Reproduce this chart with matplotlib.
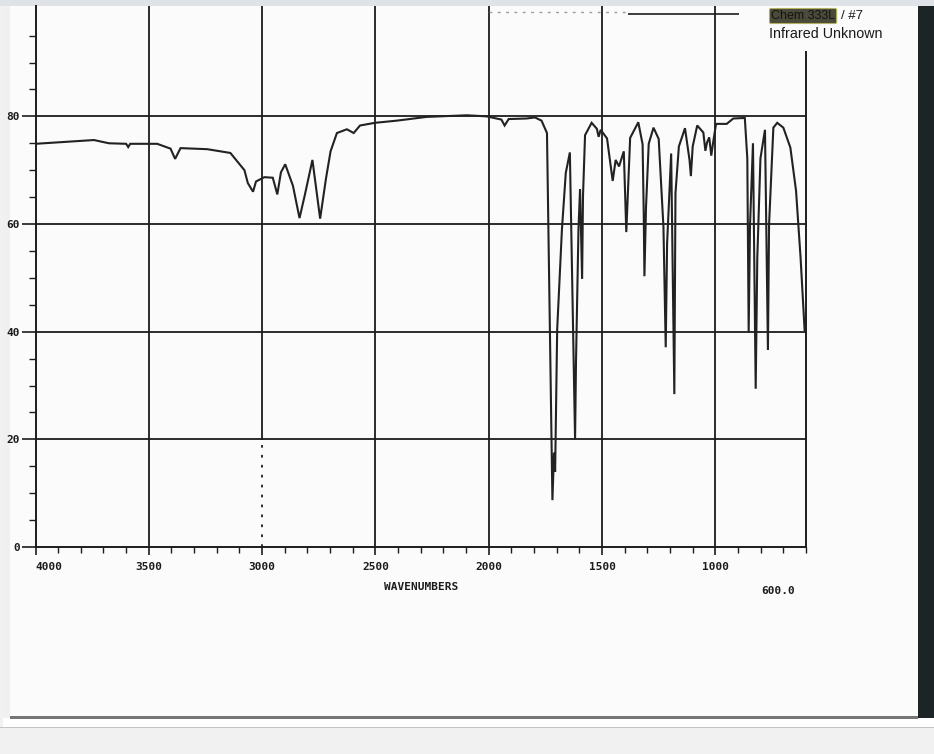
import numpy as np
import matplotlib
matplotlib.use("Agg")
import matplotlib.pyplot as plt
from matplotlib.patches import Rectangle

# ---- data ----
wavenumber = [4000, 3742, 3676, 3600, 3591, 3582, 3463, 3404, 3384, 3360, 3242, 3140,
              3078, 3063, 3040, 3027, 2990, 2953, 2933, 2917, 2898, 2864, 2835, 2812,
              2778, 2744, 2718, 2698, 2670, 2626, 2596, 2568, 2502, 2406, 2274, 2097,
              2010, 1944, 1930, 1912, 1833, 1796, 1767, 1743, 1719, 1712, 1707, 1698,
              1677, 1660, 1642, 1619, 1615, 1604, 1597, 1588, 1584, 1575, 1546, 1523,
              1515, 1506, 1478, 1453, 1440, 1425, 1404, 1393, 1376, 1340, 1321, 1316,
              1313, 1306, 1294, 1273, 1250, 1229, 1219, 1213, 1195, 1181, 1176, 1161,
              1134, 1114, 1108, 1100, 1080, 1053, 1044, 1037, 1027, 1018, 1010, 997,
              950, 921, 870, 859, 853, 847, 834, 822, 815, 801, 781, 768, 763, 744,
              727, 700, 669, 644, 624, 606]
transmittance = [74.9, 75.6, 75.0, 74.9, 74.3, 74.9, 74.9, 74.0, 72.1, 74.1, 73.9, 73.2,
                 70.0, 67.6, 66.0, 67.9, 68.7, 68.6, 65.5, 69.6, 71.1, 67.1, 61.1, 65.3,
                 71.9, 61.0, 68.5, 73.5, 76.9, 77.6, 76.9, 78.3, 78.8, 79.2, 79.9, 80.2,
                 80.0, 79.4, 78.3, 79.5, 79.6, 79.8, 79.2, 76.9, 8.7, 17.5, 14.0, 40.4,
                 59.0, 69.5, 73.3, 20.0, 34.2, 59.1, 66.5, 49.8, 65.3, 76.5, 78.8, 77.7,
                 76.2, 77.5, 75.9, 68.0, 71.9, 70.7, 73.5, 58.5, 76.0, 78.9, 74.8, 61.8,
                 50.3, 63.1, 74.9, 77.9, 75.8, 59.4, 37.1, 56.3, 73.1, 28.4, 65.7, 74.4,
                 77.8, 71.9, 68.9, 74.4, 78.3, 77.0, 73.6, 75.1, 76.1, 72.7, 75.1, 78.6,
                 78.6, 79.6, 79.7, 72.2, 39.9, 59.8, 75.0, 29.4, 53.6, 72.2, 77.5, 36.6,
                 59.9, 77.9, 78.8, 77.9, 74.2, 66.2, 53.8, 40.2]

x_major = [4000, 3500, 3000, 2500, 2000, 1500, 1000]
x_labels = ["4000", "3500", "3000", "2500", "2000", "1500", "1000"]
y_major = [0, 20, 40, 60, 80]
y_labels = ["0", "20", "40", "60", "80"]

W, H = 934, 754
INK = "#1c1c1c"
MONO = {"family": "DejaVu Sans Mono", "weight": "bold"}

fig = plt.figure(figsize=(W / 100, H / 100), dpi=100)
fig.patch.set_facecolor("#f1f1f1")


def px_rect(x0, y0, x1, y1, color, z=-5):
    r = Rectangle((x0 / W, 1 - y1 / H), (x1 - x0) / W, (y1 - y0) / H,
                  transform=fig.transFigure, facecolor=color, edgecolor="none", zorder=z)
    fig.add_artist(r)


# scanned page background
px_rect(0, 0, W, 6, "#dfe2e7")
px_rect(3, 6, W, 727, "#ffffff")
px_rect(3, 6, 10, 718, "#f0f0f0")
px_rect(10, 6, 918, 717, "#fbfbfb")
px_rect(918, 6, W, 718, "#1d2425")
px_rect(10, 716, 918, 719, "#767676")
px_rect(0, 727, W, 728, "#c4c4c4")

ax = fig.add_axes([35.5 / W, (H - 547) / H, 770.5 / W, 541 / H])
ax.set_facecolor("none")
ax.set_xlim(4000, 600)
ax.set_ylim(0, 100.5)

ax.spines["top"].set_visible(False)
for s in ["left", "bottom", "right"]:
    ax.spines[s].set_color(INK)
    ax.spines[s].set_linewidth(1.4)
ax.spines["right"].set_bounds(0, 92)

# grid lines
for v in x_major[1:]:
    if v == 3000:
        ax.axvline(v, ymin=20 / 100.5, color=INK, lw=1.3, zorder=1)
        ax.vlines(v, 0, 20, colors=INK, lw=1.3, linestyles=(0, (1.5, 4)), zorder=1)
    else:
        ax.axvline(v, color=INK, lw=1.3, zorder=1)
for h in y_major[1:]:
    ax.axhline(h, color=INK, lw=1.3, zorder=1)

# faint top frame remnant
ax.hlines(99.0, 1385, 894, colors=INK, lw=1.2, zorder=1, clip_on=False)
ax.hlines(99.3, 2000, 1390, colors="#9a9a9a", lw=1.0, linestyles=(0, (2, 4)), zorder=1)

# spectrum
ax.plot(wavenumber, transmittance, color="#222222", lw=1.5, zorder=3,
        solid_joinstyle="miter")

# ticks
ax.set_xticks(x_major)
ax.set_xticklabels(x_labels, fontdict=MONO, fontsize=8)
ax.set_xticks(np.arange(600, 4001, 100), minor=True)
ax.tick_params(axis="x", which="major", direction="out", length=6, width=1.2,
               pad=5, colors=INK)
ax.tick_params(axis="x", which="minor", direction="out", length=4, width=1.0,
               colors=INK)
ax.get_xticklabels()[0].set_horizontalalignment("left")

ax.set_yticks(y_major)
ax.set_yticklabels(y_labels, fontdict=MONO, fontsize=8)
ax.set_yticks(np.arange(0, 100, 5), minor=True)
ax.tick_params(axis="y", which="major", direction="out", length=10, width=1.2,
               pad=1, colors=INK)
ax.tick_params(axis="y", which="minor", direction="out", length=5, width=1.0,
               colors=INK)

ax.set_xlabel("WAVENUMBERS", fontdict=MONO, fontsize=8, labelpad=7, color=INK)

fig.text(778 / W, 1 - 591 / H, "600.0", ha="center", va="center",
         fontsize=8, color=INK, **MONO)

# handwritten label on the page
fig.text(771 / W, 1 - 16 / H, "Chem 333L", ha="left", va="center",
         fontsize=9, family="Liberation Sans", color="#141410",
         bbox=dict(boxstyle="round,pad=0.12", facecolor="#4a4a3a",
                   edgecolor="#b0b060", linewidth=0.8))
fig.text(841 / W, 1 - 16 / H, "/ #7", ha="left", va="center",
         fontsize=9.5, family="Liberation Sans", color="#1a1a1a")
fig.text(826 / W, 1 - 34 / H, "Infrared Unknown", ha="center", va="center",
         fontsize=10.3, family="Liberation Sans", color="#1a1a1a")

fig.savefig("out.png", dpi=100, facecolor=fig.get_facecolor())
